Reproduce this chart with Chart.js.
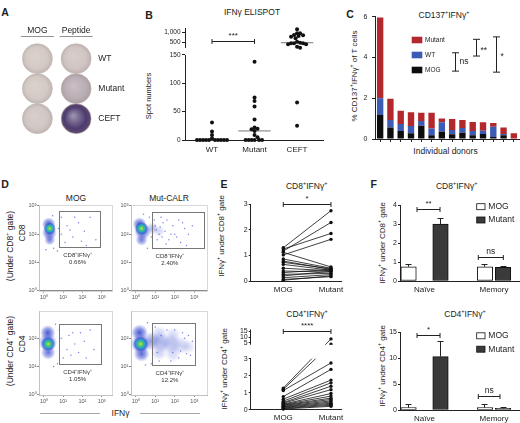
<!DOCTYPE html>
<html>
<head>
<meta charset="utf-8">
<title>Mutant CALR T-cell responses</title>
<script src="https://cdn.jsdelivr.net/npm/chart.js@4.4.1/dist/chart.umd.min.js"></script>
<style>
  html, body { margin: 0; padding: 0; background: #fff; }
  body { position: relative; width: 520px; height: 423px; overflow: hidden;
         font-family: 'Liberation Sans', Arial, Helvetica, sans-serif; color: #222; }
  canvas { position: absolute; }
  .t { position: absolute; white-space: nowrap; line-height: 1; font-size: 8.5px;
       transform: translate(-50%, -50%); }
  .v { transform: translate(-50%, -50%) rotate(-90deg); }
  .p { font-weight: bold; font-size: 10.5px; }
  .rule { position: absolute; height: 1.5px; background: #a8a8a8; }
  sup { font-size: 0.65em; line-height: 0; vertical-align: super; }
</style>
</head>
<body>
<div class="t p" style="left:5px;top:12px">A</div>
<div class="t p" style="left:149px;top:15px">B</div>
<div class="t p" style="left:350px;top:13.5px">C</div>
<div class="t p" style="left:5px;top:183.5px">D</div>
<div class="t p" style="left:224px;top:183.5px">E</div>
<div class="t p" style="left:373.7px;top:183.5px">F</div>

<div class="t" style="left:252px;top:12px">IFNγ ELISPOT</div>
<div class="t v" style="left:149px;top:96px;font-size:7.5px">Spot numbers</div>

<div class="t" style="left:444px;top:15px">CD137<sup>+</sup>IFNγ<sup>+</sup></div>
<div class="t v" style="left:355px;top:76px;font-size:8px">% CD137<sup>+</sup>IFNγ<sup>+</sup> of T cells</div>
<div class="t" style="left:445.5px;top:150.7px">Individual donors</div>

<div class="t" style="left:76px;top:198.3px">MOG</div>
<div class="t" style="left:169px;top:198.3px">Mut-CALR</div>
<div class="t v" style="left:10px;top:246px">(Under CD8<sup>+</sup> gate)</div>
<div class="t v" style="left:21.7px;top:233px">CD8</div>
<div class="t v" style="left:10px;top:351px">(Under CD4<sup>+</sup> gate)</div>
<div class="t v" style="left:21.7px;top:344.3px">CD4</div>
<div class="rule" style="left:40px;top:412.5px;width:60px"></div>
<div class="rule" style="left:139.5px;top:412.5px;width:60px"></div>
<div class="t" style="left:120.5px;top:413.3px">IFNγ</div>

<div class="t" style="left:306.7px;top:185.5px">CD8<sup>+</sup>IFNγ<sup>+</sup></div>
<div class="t v" style="left:222.3px;top:236px;font-size:8px">IFNγ<sup>+</sup> under CD8<sup>+</sup> gate</div>
<div class="t" style="left:307px;top:314px">CD4<sup>+</sup>IFNγ<sup>+</sup></div>
<div class="t v" style="left:225px;top:369px;font-size:8px">IFNγ<sup>+</sup> under CD4<sup>+</sup> gate</div>

<div class="t" style="left:456.7px;top:185.5px">CD8<sup>+</sup>IFNγ<sup>+</sup></div>
<div class="t v" style="left:383.3px;top:243px;font-size:8px">IFNγ<sup>+</sup> under CD8<sup>+</sup> gate</div>
<div class="t" style="left:465px;top:314.3px">CD4<sup>+</sup>IFNγ<sup>+</sup></div>
<div class="t v" style="left:383.3px;top:366px;font-size:8px">IFNγ<sup>+</sup> under CD4<sup>+</sup> gate</div>

<script>
// ---------- data ----------

// A: ELISPOT wells, stain intensity (0 clear .. 1 fully stained)
const wellCols = ['MOG', 'Peptide'];
const wellRows = ['WT', 'Mutant', 'CEFT'];
const wellStain = [[0.03, 0.06], [0.03, 0.22], [0.05, 1.0]];

// B: IFNγ ELISPOT spot numbers per donor
const spotGroups = ['WT', 'Mutant', 'CEFT'];
const spotsWT = [0, 0, 0, 0, 0, 0, 0, 0, 0, 0, 3, 9, 15, 31];
const spotsMut = [0, 0, 0, 0, 0, 0, 5, 9, 16, 19, 20, 22, 36, 59, 69, 75, 138];
const spotsCEFT = [1135, 935, 935, 850, 835, 800, 765, 685, 515, 465, 435, 435, 435, 385, 385, 265, 215, 66, 25];
const spotTicks = [0, 50, 100, 150, 500, 1000];

// C: % CD137+IFNγ+ of T cells, stacked per donor
const donors = ['1', '2', '3', '4', '5', '6', '7', '8', '9', '10', '11', '12', '13', '14'];
const cd137MOG = [1.18, 0.57, 0.39, 0.28, 0.65, 0.18, 0.36, 0.23, 0.31, 0.18, 0.25, 0.10, 0.18, 0];
const cd137WT = [0.82, 0.36, 0.35, 0.36, 0.23, 0.33, 0.46, 0.21, 0.23, 0.21, 0.16, 0.50, 0.07, 0];
const cd137Mut = [3.96, 1.05, 0.65, 0.67, 0.41, 0.78, 0.19, 0.54, 0.39, 0.44, 0.41, 0.18, 0.31, 0.28];

// D: flow plots (values in decades, log10 fluorescence). order: CD8 MOG, CD8 Mut, CD4 MOG, CD4 Mut
const flowGateNames = ['CD8⁺IFNγ⁺', 'CD8⁺IFNγ⁺', 'CD4⁺IFNγ⁺', 'CD4⁺IFNγ⁺'];
const flowPct = ['0.66%', '2.40%', '1.05%', '12.2%'];
const flowGates = [[0.8, 2.95, 1.53, 2.8], [0.85, 3.5, 1.49, 2.77], [0.8, 3.0, 1.07, 2.5], [0.87, 3.04, 1.05, 2.51]];
// densest part of each population: [x, y, spread]
const flowCore = [
  [[0.3, 2.2, 0.26]],
  [[0.3, 2.2, 0.28]],
  [[0.22, 1.8, 0.3]],
  [[0.25, 1.8, 0.32]]
];
// surrounding event clouds: [x, y, spread, relative density]
const flowHalo = [
  [[0.25, 2.35, 0.3, 1], [0.28, 2.05, 0.32, 1], [0.3, 1.8, 0.24, 0.8]],
  [[0.2, 2.35, 0.3, 1], [0.35, 2.1, 0.36, 1], [0.3, 1.8, 0.26, 0.8], [0.85, 2.2, 0.26, 0.45], [1.2, 2.1, 0.25, 0.25]],
  [[0.2, 2.2, 0.33, 1], [0.2, 1.85, 0.4, 1], [0.22, 1.5, 0.32, 0.85]],
  [[0.2, 2.2, 0.36, 1], [0.25, 1.8, 0.42, 1], [0.3, 1.45, 0.34, 0.9],
   [0.8, 1.9, 0.4, 0.6], [1.3, 1.85, 0.42, 0.45], [1.8, 1.8, 0.42, 0.38], [2.3, 1.75, 0.4, 0.3], [2.7, 1.7, 0.3, 0.22],
   [1.2, 1.5, 0.35, 0.3], [1.9, 1.45, 0.35, 0.25], [1.2, 2.15, 0.35, 0.3], [1.9, 2.1, 0.35, 0.25]]
];
// sparse single events
const flowSparse = [
  [[0.9, 2.0], [1.2, 2.3], [1.5, 1.9], [1.8, 2.4], [2.1, 2.1], [2.4, 2.6], [1.1, 1.7], [1.6, 2.6], [2.7, 1.8], [0.7, 1.4],
   [0.9, 2.6], [2.2, 1.6], [0.75, 2.2], [0.5, 1.5], [0.1, 1.45], [0.45, 2.65], [1.35, 2.15], [1.95, 1.75]],
  [[1.0, 2.3], [1.2, 2.0], [1.4, 2.4], [1.5, 2.1], [1.7, 1.8], [1.9, 2.3], [2.0, 2.0], [2.2, 2.5], [2.3, 1.7], [2.5, 2.2],
   [2.7, 2.0], [1.1, 1.8], [1.3, 2.6], [1.6, 2.5], [1.8, 2.0], [2.1, 1.9], [2.4, 2.4], [2.9, 2.3], [1.05, 2.15], [1.35, 1.9],
   [0.95, 2.5], [1.55, 1.65], [2.6, 1.6], [0.6, 1.5], [0.4, 2.7], [0.7, 2.6], [0.8, 1.9], [1.25, 2.25]],
  [[0.9, 2.0], [1.2, 1.6], [1.5, 2.2], [1.8, 1.5], [2.1, 1.9], [2.4, 2.3], [1.0, 1.3], [1.6, 1.8], [2.6, 1.6], [0.8, 2.3],
   [1.3, 2.1], [2.2, 1.3], [0.7, 1.1], [1.9, 2.2], [0.6, 2.5], [0.5, 1.0], [1.4, 1.4]],
  [[2.9, 1.9], [2.8, 1.4], [2.4, 2.2], [1.2, 1.2], [1.8, 1.2], [2.2, 1.3], [1.0, 2.4], [1.6, 2.3], [2.0, 2.3], [2.5, 2.0],
   [0.8, 1.1], [2.7, 2.1], [1.3, 2.1], [1.9, 1.5], [2.3, 1.55], [1.1, 1.5], [2.6, 1.45], [0.6, 2.55], [0.5, 1.05]]
];

// E: paired IFNγ+ % per donor, MOG vs Mutant
const pairLabels = ['MOG', 'Mutant'];
const cd8MOG = [1.30, 1.25, 1.17, 1.12, 1.02, 0.86, 0.78, 0.73, 0.65, 0.50, 0.39, 0.33, 0.26, 0.20, 0.13, 0.06, 0.03];
const cd8Mut = [2.75, 1.86, 2.29, 0.55, 1.63, 0.50, 0.45, 0.48, 0.42, 0.40, 0.35, 0.45, 0.30, 0.38, 0.25, 0.17, 0.20];
const cd4MOG = [1.27, 1.20, 1.13, 0.77, 0.62, 0.50, 0.42, 0.38, 0.33, 0.30, 0.27, 0.24, 0.20, 0.17, 0.14, 0.10, 0.07, 0.04];
const cd4Mut = [8.5, 4.0, 2.75, 2.37, 1.74, 1.58, 1.38, 1.18, 0.95, 0.80, 0.68, 0.60, 0.52, 0.45, 0.38, 0.32, 0.26, 0.20];

// F: mean ± SEM by T-cell subset
const subsets = ['Naïve', 'Memory'];
const cd8BarMOG = [0.75, 0.75], cd8ErrMOG = [0.13, 0.13];
const cd8BarMut = [3.0, 0.72], cd8ErrMut = [0.3, 0.03];
const cd4BarMOG = [0.45, 0.45], cd4ErrMOG = [0.65, 0.65];
const cd4BarMut = [10.3, 0.33], cd4ErrMut = [2.9, 0.2];

// ---------- setup ----------
const FONT = "'Liberation Sans', Arial, Helvetica, sans-serif";
Chart.defaults.font.family = FONT;
Chart.defaults.font.size = 7;
Chart.defaults.color = '#222';
Chart.defaults.animation = false;
Chart.defaults.responsive = false;
Chart.defaults.maintainAspectRatio = false;
Chart.defaults.events = [];
Chart.defaults.layout.autoPadding = false;
Chart.defaults.plugins.legend.display = false;
Chart.defaults.plugins.tooltip.enabled = false;
Chart.defaults.scale.ticks.autoSkip = false;
Chart.defaults.scale.ticks.maxRotation = 0;

// linear scale with a gap: value ranges mapped to fractions of the axis height
class BrokenScale extends Chart.LinearScale {
  configure() {
    super.configure();
    this._segs = (this.options.segments || []).map(s => ({min: s.min, max: s.max, from: s.from, to: s.to}));
  }
  _frac(v) {
    const segs = this._segs, n = segs.length;
    for (let i = 0; i < n; i++) {
      const s = segs[i];
      if (v <= s.max || i === n - 1) {
        if (v >= s.min || i === 0) return s.from + (v - s.min) / (s.max - s.min) * (s.to - s.from);
        const p = segs[i - 1];
        return p.to + (v - p.max) / (s.min - p.max) * (s.from - p.to);
      }
    }
    return 0;
  }
  getPixelForValue(v) {
    if (v === null || v === undefined || isNaN(v) || !this._segs) return NaN;
    return this.bottom - this._frac(+v) * (this.bottom - this.top);
  }
  getValueForPixel(px) {
    const f = (this.bottom - px) / (this.bottom - this.top), segs = this._segs;
    for (let i = 0; i < segs.length; i++) {
      const s = segs[i];
      if (f <= s.to || i === segs.length - 1) return s.min + (f - s.from) / (s.to - s.from) * (s.max - s.min);
    }
    return 0;
  }
}
BrokenScale.id = 'broken';
BrokenScale.defaults = {};
Chart.register(BrokenScale);

function mount(box) {
  const c = document.createElement('canvas');
  c.width = box[2]; c.height = box[3];
  Object.assign(c.style, {left: box[0] + 'px', top: box[1] + 'px', width: box[2] + 'px', height: box[3] + 'px'});
  document.body.appendChild(c);
  return c;
}
// box = canvas on page, area = plot area on page
function frame(box, area) {
  return {
    pad: {left: 0, top: area[1] - box[1], right: box[0] + box[2] - area[2], bottom: 0},
    yw: area[0] - box[0], xh: box[1] + box[3] - area[3]
  };
}
const fixW = w => s => { s.width = w; };
const fixH = h => s => { s.height = h; };
const setTicks = vals => s => { s.ticks = vals.map(v => ({value: v})); };
const median = a => { const s = [...a].sort((p, q) => p - q), m = s.length >> 1; return s.length % 2 ? s[m] : (s[m - 1] + s[m]) / 2; };
const ax = v => Math.round(v - 0.5) + 0.5;
const ok = (...v) => v.every(Number.isFinite);

function seg(ctx, x0, y0, x1, y1, color, w) {
  ctx.save(); ctx.strokeStyle = color || '#222'; ctx.lineWidth = w || 1;
  ctx.beginPath(); ctx.moveTo(x0, y0); ctx.lineTo(x1, y1); ctx.stroke(); ctx.restore();
}
function label(ctx, s, x, y, size, align, base, color) {
  ctx.save(); ctx.font = size + 'px ' + FONT; ctx.fillStyle = color || '#222';
  ctx.textAlign = align || 'center'; ctx.textBaseline = base || 'middle';
  ctx.fillText(s, x, y); ctx.restore();
}
function hBracket(chart, b) {
  const {x, y} = chart.scales, ctx = chart.ctx;
  const x0 = x.getPixelForValue(b.x0), x1 = x.getPixelForValue(b.x1), py = ax(y.getPixelForValue(b.y));
  seg(ctx, x0, py, x1, py); seg(ctx, x0, py - 2.5, x0, py + 2.5); seg(ctx, x1, py - 2.5, x1, py + 2.5);
  label(ctx, b.label, (x0 + x1) / 2, py - 1.5, b.label === 'ns' ? 8.5 : 8, 'center', 'bottom');
}
function brokenAxis(chart) {
  const y = chart.scales.y, h = y.bottom - y.top, x = ax(y.right);
  y._segs.forEach(s => seg(chart.ctx, x, y.bottom - s.from * h, x, y.bottom - s.to * h));
}

// ---------- A: wells ----------
const mix = (a, b, t) => a.map((v, i) => Math.round(v + (b[i] - v) * t));
const rgb = c => `rgb(${c[0]},${c[1]},${c[2]})`;
const WELL_R = 15;
function wellFill(ctx) {
  if (!ctx.raw) return '#ddd';
  const s = ctx.raw.stain;
  const base = mix([216, 206, 200], [78, 60, 112], s);
  const inner = mix(base, [250, 246, 244], 0.15 + 0.3 * s);
  const rim = mix(base, [120, 105, 105], 0.2 + 0.1 * s);
  const {x, y} = ctx.chart.scales;
  const px = x.getPixelForValue(ctx.parsed.x), py = y.getPixelForValue(ctx.parsed.y);
  if (!ok(px, py)) return rgb(base);
  const g = ctx.chart.ctx.createRadialGradient(px - 3, py - 3, 1, px, py, WELL_R);
  g.addColorStop(0, rgb(inner)); g.addColorStop(0.7, rgb(base)); g.addColorStop(1, rgb(rim));
  return g;
}
new Chart(mount([0, 20, 135, 125]), {
  type: 'scatter',
  data: {datasets: [{
    data: wellRows.flatMap((r, i) => wellCols.map((c, j) => ({x: c, y: r, stain: wellStain[i][j]}))),
    pointRadius: WELL_R, borderWidth: 0.6, borderColor: '#c2b7b0', backgroundColor: wellFill
  }]},
  options: {
    layout: {padding: {left: 18, top: 0, right: 0, bottom: 11.3}},
    scales: {
      x: {type: 'category', labels: wellCols, position: 'top', offset: true,
          grid: {display: false, drawTicks: false}, border: {display: false},
          ticks: {font: {size: 8.5}, padding: 8}, afterFit: fixH(23.7)},
      y: {type: 'category', labels: wellRows, position: 'right', offset: true,
          grid: {display: false, drawTicks: false}, border: {display: false},
          ticks: {font: {size: 8.5}, padding: 2.8}, afterFit: fixW(39.5)}
    }
  },
  plugins: [{
    id: 'headerRule',
    afterDraw(chart) {
      const x = chart.scales.x, yy = ax(chart.chartArea.top - 7);
      wellCols.forEach((c, i) => {
        const px = x.getPixelForValue(i);
        seg(chart.ctx, px - 16.5, yy, px + 16.5, yy, '#777', 0.8);
      });
    }
  }]
});

// ---------- B: ELISPOT scatter ----------
const boxB = [140, 18, 195, 145], fB = frame(boxB, [185, 28, 323, 140]);
const spotSets = [spotsWT, spotsMut, spotsCEFT];
const chartB = new Chart(mount(boxB), {
  type: 'scatter',
  data: {datasets: [
    {data: [], pointRadius: 2, backgroundColor: '#111', borderWidth: 0, clip: 5},
    ...spotSets.map((vals, g) => ({
      data: [{x: g + 1 - 0.38, y: median(vals)}, {x: g + 1 + 0.38, y: median(vals)}],
      showLine: true, borderColor: '#777', borderWidth: 1, pointRadius: 0, clip: 5
    }))
  ]},
  options: {
    layout: {padding: fB.pad},
    scales: {
      x: {type: 'linear', bounds: 'data', min: 0.365, max: 3.61, afterBuildTicks: setTicks([1, 2, 3]),
          ticks: {callback: v => spotGroups[Math.round(v) - 1], font: {size: 8}, padding: 5},
          grid: {display: false, drawTicks: false}, border: {color: '#222'}, afterFit: fixH(fB.xh)},
      y: {type: 'broken', bounds: 'data', min: 0, max: 1200,
          segments: [{min: 0, max: 150, from: 0, to: 0.759}, {min: 200, max: 1200, from: 0.821, to: 1}],
          afterBuildTicks: setTicks(spotTicks),
          ticks: {callback: v => v.toLocaleString('en-US'), font: {size: 6.5}, padding: 1.5},
          grid: {drawOnChartArea: false, tickLength: 3, color: '#222'}, border: {display: false},
          afterFit: fixW(fB.yw)}
    }
  },
  plugins: [{
    id: 'axisB',
    afterDraw(chart) { brokenAxis(chart); hBracket(chart, {x0: 1, x1: 2, y: 520, label: '***'}); }
  }]
});
// beeswarm: spread equal / close values sideways so dots do not sit on top of each other
(function swarm(chart, groups, minDist) {
  const xs = chart.scales.x, ys = chart.scales.y;
  const unit = xs.getPixelForValue(1) - xs.getPixelForValue(0);
  const out = [];
  groups.forEach((vals, g) => {
    const placed = [];
    vals.map((v, i) => i).sort((a, b) => vals[b] - vals[a]).forEach(i => {
      const py = ys.getPixelForValue(vals[i]);
      let off = 0;
      for (let k = 0; k < 80; k++) {
        const c = (k % 2 ? 1 : -1) * Math.ceil(k / 2) * minDist / 2;
        if (placed.every(p => (p[0] - c) ** 2 + (p[1] - py) ** 2 >= minDist * minDist)) { off = c; break; }
      }
      placed.push([off, py]);
      out.push({x: g + 1 + off / unit, y: vals[i]});
    });
  });
  chart.data.datasets[0].data = out;
  chart.update();
})(chartB, spotSets, 3);

// ---------- C: stacked bars ----------
const boxC = [345, 8, 175, 160], fC = frame(boxC, [375, 16.7, 519, 139]);
const cBrackets = [{x: 7.28, y0: 3.33, y1: 4.23, label: 'ns'}, {x: 9.32, y0: 4.07, y1: 4.89, label: '**'}, {x: 11.33, y0: 3.28, y1: 5.01, label: '*'}];
new Chart(mount(boxC), {
  type: 'bar',
  data: {labels: donors, datasets: [
    {label: 'MOG', data: cd137MOG, backgroundColor: '#0d0d0d'},
    {label: 'WT', data: cd137WT, backgroundColor: '#3b5bb5'},
    {label: 'Mutant', data: cd137Mut, backgroundColor: '#b3282d'}
  ].map(d => Object.assign(d, {barPercentage: 0.62, categoryPercentage: 1, borderWidth: 0}))},
  options: {
    layout: {padding: fC.pad},
    scales: {
      x: {stacked: true, ticks: {display: false},
          grid: {drawOnChartArea: false, drawTicks: true, tickLength: 3, offset: false, color: '#222'},
          border: {color: '#222'}, afterFit: fixH(fC.xh)},
      y: {stacked: true, min: 0, max: 6, ticks: {stepSize: 2, font: {size: 7}, padding: 4.5},
          grid: {drawOnChartArea: false, tickLength: 3, color: '#222'}, border: {color: '#222'},
          afterFit: fixW(fC.yw)}
    }
  },
  plugins: [{
    id: 'legendC',
    afterDraw(chart) {
      const {x, y} = chart.scales, ctx = chart.ctx, a = chart.chartArea;
      [...chart.data.datasets].reverse().forEach((d, i) => {
        const ly = a.top + 23.3 + i * 15;
        ctx.fillStyle = d.backgroundColor; ctx.fillRect(a.left + 36.7, ly - 3.3, 10.6, 6.6);
        label(ctx, d.label, a.left + 50, ly, 6.5, 'left');
      });
      cBrackets.forEach(b => {
        const px = ax(x.getPixelForValue(b.x)), p0 = y.getPixelForValue(b.y0), p1 = y.getPixelForValue(b.y1);
        seg(ctx, px, p0, px, p1); seg(ctx, px - 3.5, p0, px + 3.5, p0); seg(ctx, px - 3.5, p1, px + 3.5, p1);
        label(ctx, b.label, px + 4, (p0 + p1) / 2 + (b.label === 'ns' ? 0 : 2.5), 8.5, 'left');
      });
    }
  }]
});

// ---------- D: flow cytometry plots ----------
const CORE = [[0, 'rgba(215,232,60,1)'], [0.25, 'rgba(90,205,90,1)'], [0.55, 'rgba(30,170,200,0.9)'], [0.82, 'rgba(40,85,205,0.55)'], [1, 'rgba(45,65,200,0)']];
const HALO = [[0, [38, 58, 200, 0.85]], [0.55, [50, 70, 205, 0.5]], [1, [70, 85, 210, 0]]];
function blobRadius(ctx) {
  if (!ctx.raw) return 0;
  const {x, y} = ctx.chart.scales;
  const dx = Math.abs(x.getPixelForValue(10) - x.getPixelForValue(1));
  const dy = Math.abs(y.getPixelForValue(10) - y.getPixelForValue(1));
  const r = ctx.raw.s * Math.sqrt(dx * dy);
  return Number.isFinite(r) ? r : 0;
}
function blobFill(stops) {
  return ctx => {
    if (!ctx.raw) return 'rgba(0,0,0,0)';
    const {x, y} = ctx.chart.scales;
    const px = x.getPixelForValue(ctx.raw.x), py = y.getPixelForValue(ctx.raw.y);
    const r = blobRadius(ctx), w = ctx.raw.w === undefined ? 1 : ctx.raw.w;
    if (!ok(px, py) || r <= 0) return 'rgba(0,0,0,0)';
    const g = ctx.chart.ctx.createRadialGradient(px, py, 0, px, py, r);
    stops.forEach(([o, c]) => g.addColorStop(o, Array.isArray(c) ? `rgba(${c[0]},${c[1]},${c[2]},${c[3] * w})` : c));
    return g;
  };
}
const SUP = '⁰¹²³';
function flowChart(k, box, area, xr, yr) {
  const f = frame(box, area);
  const toPt = ([x, y, s, w]) => ({x: 10 ** x, y: 10 ** y, s: s || 0, w});
  const axis = (isX, fit) => ({
    type: 'logarithmic', bounds: 'data',
    min: 10 ** (isX ? xr[0] : yr[0]), max: 10 ** (isX ? xr[1] : yr[1]),
    afterBuildTicks: s => { s.ticks = [1, 10, 100, 1000].filter(v => v >= s.min * 0.999 && v <= s.max * 1.001).map(v => ({value: v})); },
    ticks: {callback: v => '10' + SUP[Math.round(Math.log10(v))], font: {size: 5.5}, color: '#555', padding: isX ? 1.5 : 0.5},
    grid: {drawOnChartArea: false, tickLength: 2, color: '#8a8a8a'},
    border: {color: '#8a8a8a'},
    afterFit: fit
  });
  const g = flowGates[k];
  return new Chart(mount(box), {
    type: 'scatter',
    data: {datasets: [
      {data: flowCore[k].map(toPt), pointRadius: blobRadius, backgroundColor: blobFill(CORE), borderWidth: 0},
      {data: flowHalo[k].map(toPt), pointRadius: blobRadius, backgroundColor: blobFill(HALO), borderWidth: 0},
      {data: flowSparse[k].map(toPt), pointRadius: 0.75, backgroundColor: 'rgba(95,105,220,0.8)', borderWidth: 0}
    ]},
    options: {
      layout: {padding: f.pad},
      scales: {x: axis(true, fixH(f.xh)), y: axis(false, fixW(f.yw))}
    },
    plugins: [{
      id: 'gate',
      beforeDatasetsDraw(chart) {
        const a = chart.chartArea, ctx = chart.ctx;
        ctx.save(); ctx.strokeStyle = '#cfcfcf'; ctx.lineWidth = 0.8;
        ctx.strokeRect(ax(a.left), ax(a.top), Math.round(a.width), Math.round(a.height)); ctx.restore();
      },
      afterDatasetsDraw(chart) {
        const {x, y} = chart.scales, ctx = chart.ctx;
        const x0 = ax(x.getPixelForValue(10 ** g[0])), x1 = ax(x.getPixelForValue(10 ** g[1]));
        const y0 = ax(y.getPixelForValue(10 ** g[2])), y1 = ax(y.getPixelForValue(10 ** g[3]));
        ctx.save(); ctx.strokeStyle = '#777'; ctx.lineWidth = 1; ctx.strokeRect(x0, y1, x1 - x0, y0 - y1); ctx.restore();
        const tx = x.getPixelForValue(10 ** 1.75);
        label(ctx, flowGateNames[k], tx, y0 + 8, 6, 'center', 'middle', '#333');
        label(ctx, flowPct[k], tx, y0 + 14.5, 6, 'center', 'middle', '#333');
      }
    }]
  });
}
flowChart(0, [0, 196, 122, 112], [39, 205, 112, 290.7], [-0.26, 3.54], [0, 3.03]);
flowChart(1, [112, 196, 105, 112], [131, 205, 207, 290.7], [-0.24, 3.65], [0, 3.03]);
flowChart(2, [0, 303, 122, 105], [39, 311, 112, 395], [-0.26, 3.54], [-0.01, 2.97]);
flowChart(3, [112, 303, 105, 105], [131, 311, 207, 395], [-0.24, 3.65], [-0.01, 2.97]);

// ---------- E: paired donors ----------
function pairChart(box, area, mog, mut, yScale, bracket, broken) {
  const f = frame(box, area);
  const datasets = mog.map((v, i) => ({
    data: [{x: 0, y: v}, {x: 1, y: mut[i]}],
    showLine: true, borderColor: '#111', borderWidth: 0.8,
    pointRadius: 1.7, pointBackgroundColor: '#111', pointBorderWidth: 0, clip: 5
  }));
  const plugins = [{
    id: 'pairMarks',
    afterDraw(chart) { if (broken) brokenAxis(chart); hBracket(chart, bracket); }
  }];
  if (broken) plugins.unshift({
    id: 'gapClip',
    beforeDatasetsDraw(chart) {
      const y = chart.scales.y, a = chart.chartArea, h = y.bottom - y.top, [lo, hi] = y._segs;
      const gapLow = y.bottom - lo.to * h, gapHigh = y.bottom - hi.from * h, ctx = chart.ctx;
      ctx.save(); ctx.beginPath();
      ctx.rect(a.left - 10, a.top - 10, a.width + 20, gapHigh - a.top + 10);
      ctx.rect(a.left - 10, gapLow, a.width + 20, a.bottom - gapLow + 10);
      ctx.clip();
    },
    afterDatasetsDraw(chart) { chart.ctx.restore(); }
  });
  return new Chart(mount(box), {
    type: 'scatter',
    data: {datasets},
    options: {
      layout: {padding: f.pad},
      scales: {
        x: {type: 'linear', bounds: 'data', min: -0.683, max: 1.21, afterBuildTicks: setTicks([0, 1]),
            ticks: {callback: v => pairLabels[Math.round(v)], font: {size: 8}, padding: 3.7},
            grid: {display: false, drawTicks: false}, border: {color: '#222'}, afterFit: fixH(f.xh)},
        y: Object.assign({
            bounds: 'data', ticks: {font: {size: 7}, padding: 1},
            grid: {drawOnChartArea: false, tickLength: 2, color: '#222'}, afterFit: fixW(f.yw)}, yScale)
      }
    },
    plugins
  });
}
pairChart([215, 188, 140, 108], [250.7, 204.3, 341, 281], cd8MOG, cd8Mut,
  {type: 'linear', min: 0, max: 3, afterBuildTicks: setTicks([0, 1, 2, 3]), border: {color: '#222'}},
  {x0: 0, x1: 1, y: 3, label: '*'}, false);
pairChart([215, 316, 140, 107], [250.7, 329.5, 341, 409.7], cd4MOG, cd4Mut,
  {type: 'broken', min: 0, max: 16.5,
   segments: [{min: 0, max: 3, from: 0, to: 0.636}, {min: 3.5, max: 16.5, from: 0.81, to: 1}],
   afterBuildTicks: setTicks([0, 1, 2, 3, 5, 10, 15]), border: {display: false}},
  {x0: 0, x1: 1, y: 15, label: '****'}, true);

// ---------- F: bars with SEM ----------
function barChart(box, area, ymax, step, mogV, mogE, mutV, mutE, brackets, legendY) {
  const f = frame(box, area);
  const half = [0.23, 0.13]; // half distance between the two bars in each subset
  const sets = [
    {label: 'MOG', vals: mogV, errs: mogE, side: -1, fill: '#ffffff'},
    {label: 'Mutant', vals: mutV, errs: mutE, side: 1, fill: '#3a3a3a'}
  ];
  return new Chart(mount(box), {
    type: 'bar',
    data: {datasets: sets.map(s => ({
      label: s.label, errs: s.errs,
      data: s.vals.map((v, i) => ({x: i + 1 + s.side * half[i], y: v})),
      backgroundColor: s.fill, borderColor: '#111', borderWidth: 1, borderSkipped: false,
      barThickness: 15.5, grouped: false
    }))},
    options: {
      layout: {padding: f.pad},
      scales: {
        x: {type: 'linear', offset: false, bounds: 'data', min: 0.647, max: 2.374, afterBuildTicks: setTicks([1, 2]),
            ticks: {callback: v => subsets[Math.round(v) - 1], font: {size: 8}, padding: 4},
            grid: {display: false, drawTicks: false}, border: {color: '#222'}, afterFit: fixH(f.xh)},
        y: {min: 0, max: ymax, ticks: {stepSize: step, font: {size: 7}, padding: 1},
            grid: {drawOnChartArea: false, tickLength: 2, color: '#222'}, border: {color: '#222'},
            afterFit: fixW(f.yw)}
      }
    },
    plugins: [{
      id: 'semLegend',
      afterDatasetsDraw(chart) {
        const y = chart.scales.y, ctx = chart.ctx;
        chart.data.datasets.forEach((d, di) => {
          chart.getDatasetMeta(di).data.forEach((bar, i) => {
            const v = d.data[i].y, top = y.getPixelForValue(v + d.errs[i]), px = ax(bar.x);
            seg(ctx, px, y.getPixelForValue(v), px, top, '#222', 1);
            seg(ctx, px - 3, ax(top), px + 3, ax(top), '#222', 1);
          });
        });
      },
      afterDraw(chart) {
        const a = chart.chartArea, ctx = chart.ctx, lx = a.left + 76.7;
        chart.data.datasets.forEach((d, i) => {
          const ly = a.top + legendY[i];
          ctx.fillStyle = d.backgroundColor; ctx.fillRect(lx, ly - 3, 8.3, 6);
          ctx.strokeStyle = '#111'; ctx.lineWidth = 0.8; ctx.strokeRect(lx, ly - 3, 8.3, 6);
          label(ctx, d.label, lx + 11.6, ly, 8.5, 'left');
        });
        brackets.forEach(b => hBracket(chart, b));
      }
    }]
  });
}
barChart([360, 196, 160, 102], [400, 205, 520, 281], 4, 1, cd8BarMOG, cd8ErrMOG, cd8BarMut, cd8ErrMut,
  [{x0: 0.892, x1: 1.223, y: 3.77, label: '**'}, {x0: 1.774, x1: 2.134, y: 1.25, label: 'ns'}], [1.7, 15]);
barChart([360, 320, 160, 103], [400, 332.3, 520, 410], 15, 5, cd4BarMOG, cd4ErrMOG, cd4BarMut, cd4ErrMut,
  [{x0: 0.892, x1: 1.223, y: 14.3, label: '*'}, {x0: 1.774, x1: 2.086, y: 2.7, label: 'ns'}], [3.5, 16.9]);
</script>
</body>
</html>
